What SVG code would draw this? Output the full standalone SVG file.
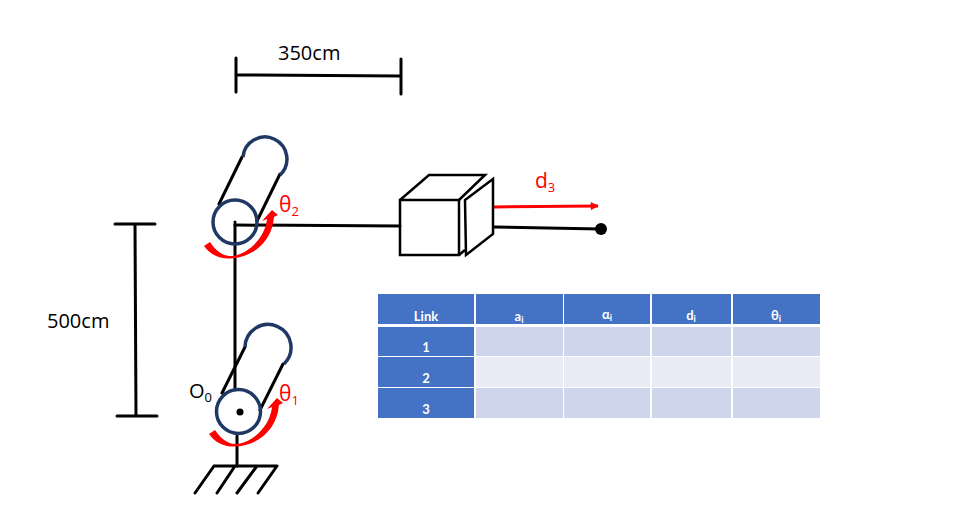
<svg xmlns="http://www.w3.org/2000/svg" width="962" height="517" viewBox="0 0 962 517">
<style>
text{font-family:"Open Sans","Liberation Sans",Arial,sans-serif}
.blk{fill:none;stroke:#000;stroke-width:3;stroke-linecap:round;stroke-linejoin:round}
.thin{fill:none;stroke:#000;stroke-width:2.5}
.joint{fill:none;stroke:#1f3864;stroke-width:3.5}
.lbl{font-size:20px;fill:#000}
.red{font-size:21px;fill:#f00}
.sub{font-size:13px}
.hd{fill:#4472c4}
.c1{fill:#cfd5ea}
.c2{fill:#e9ebf5}
.th{font-family:Lato,"Liberation Sans",sans-serif;font-size:13px;font-weight:700;fill:#fff;text-anchor:middle}
.ths{font-size:9px}
.redarc{fill:#f00;stroke:none}
</style>
<defs>
<marker id="ah" viewBox="0 0 10 10" refX="9" refY="5" markerWidth="10" markerHeight="8" markerUnits="userSpaceOnUse" orient="auto"><path d="M0 0L10 5L0 10Z" fill="#f00"/></marker>
<path id="rot" class="redarc" d="M209 434C216 444 226 447 236 446.500C258 445 277 430 279 405L283 403L277 398L267 409L272 407C270 425 255 441 238 444C228 445 220 438 215 430Z"/>
</defs>
<g id="connectors">
<path class="blk" d="M235 224V390"/>
<path class="blk" d="M235 225L400 226"/>
<path class="blk" d="M237 436V466"/>
<path class="blk" d="M494 227L600 229"/>
<path d="M494 207L598 206" fill="none" stroke="#f00" stroke-width="3" marker-end="url(#ah)"/>
</g>
<g id="dim-350">
<path class="blk" d="M236 58V92M401 59V94M236 75L401 76"/>
<text class="lbl" x="278" y="60">350cm</text>
</g>
<g id="dim-500">
<path class="blk" d="M115 224H155M117 416H157M135 224L136 416"/>
<text class="lbl" x="47" y="328">500cm</text>
</g>
<g id="link-2">
<path class="blk" d="M242 157L219 204M280 174L257 221"/>
<path class="joint" d="M243 157A22 22 0 1 1 280 175"/>
<circle class="joint" cx="235" cy="222" r="22"/>
<circle cx="235" cy="222" r="1.500"/>
</g>
<g id="theta-2">
<use href="#rot" transform="translate(-5 -188)"/>
<text class="red" x="279" y="212">θ<tspan class="sub" dy="4">2</tspan></text>
</g>
<g id="link-1">
<path class="blk" d="M245 347L222 393M283 364L260 410"/>
<path class="joint" d="M245 347A23 23 0 1 1 284 364"/>
<circle class="joint" cx="238.500" cy="411.500" r="22"/>
<circle cx="240" cy="412" r="3.500"/>
</g>
<g id="theta-1">
<use href="#rot"/>
<text class="red" x="279" y="401">θ<tspan class="sub" dy="4">1</tspan></text>
</g>
<text id="o0" class="lbl" x="189" y="398">O<tspan class="sub" dy="4">0</tspan></text>
<g id="ground">
<path class="blk" d="M214 466H277M214 466L195 493M235 466L217 493M257 466L237 493M277 466L258 493"/>
</g>
<g id="prismatic">
<rect class="thin" x="400" y="200" width="59" height="55" fill="#fff"/>
<path class="thin" d="M400 200L429 175H485L459 200M459 255L465 250"/>
<path class="thin" d="M465 200L493 179V234L466 255Z"/>
<circle cx="601" cy="229" r="6"/>
<text class="red" x="535" y="188">d<tspan class="sub" dy="4">3</tspan></text>
</g>
<g id="table">
<rect class="hd" x="378" y="294" width="96" height="30"/>
<rect class="hd" x="476" y="294" width="87" height="30"/>
<rect class="hd" x="564" y="294" width="86" height="30"/>
<rect class="hd" x="652" y="294" width="79" height="30"/>
<rect class="hd" x="733" y="294" width="87" height="30"/>
<rect class="hd" x="378" y="327" width="96" height="29"/>
<rect class="hd" x="378" y="357" width="96" height="30"/>
<rect class="hd" x="378" y="388" width="96" height="30"/>
<rect class="c1" x="476" y="327" width="87" height="29"/>
<rect class="c1" x="564" y="327" width="86" height="29"/>
<rect class="c1" x="652" y="327" width="79" height="29"/>
<rect class="c1" x="733" y="327" width="87" height="29"/>
<rect class="c2" x="476" y="357" width="87" height="30"/>
<rect class="c2" x="564" y="357" width="86" height="30"/>
<rect class="c2" x="652" y="357" width="79" height="30"/>
<rect class="c2" x="733" y="357" width="87" height="30"/>
<rect class="c1" x="476" y="388" width="87" height="30"/>
<rect class="c1" x="564" y="388" width="86" height="30"/>
<rect class="c1" x="652" y="388" width="79" height="30"/>
<rect class="c1" x="733" y="388" width="87" height="30"/>
<text class="th" x="426" y="321">Link</text>
<text class="th" x="519" y="321">a<tspan class="ths" dy="2">i</tspan></text>
<text class="th" x="607" y="319">α<tspan class="ths" dy="2">i</tspan></text>
<text class="th" x="691" y="320">d<tspan class="ths" dy="2">i</tspan></text>
<text class="th" x="776" y="320">θ<tspan class="ths" dy="2">i</tspan></text>
<text class="th" x="426" y="352">1</text>
<text class="th" x="426" y="383">2</text>
<text class="th" x="426" y="414">3</text>
</g>
</svg>
